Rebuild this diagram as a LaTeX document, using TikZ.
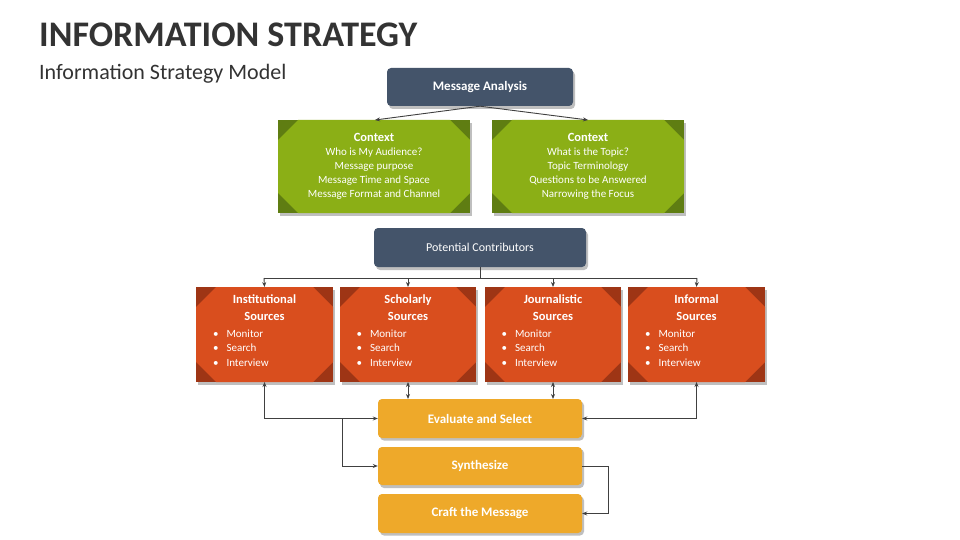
\documentclass[tikz,border=0pt]{standalone}
\usepackage{fontspec}
\setmainfont{Carlito}
\usetikzlibrary{arrows.meta,calc}
\definecolor{navy}{HTML}{44546A}
\definecolor{grn}{HTML}{8BAF16}
\definecolor{dgrn}{HTML}{5F7D12}
\definecolor{org}{HTML}{D94E1E}
\definecolor{dorg}{HTML}{9E3515}
\definecolor{yel}{HTML}{EEA92A}
\definecolor{ln}{HTML}{404040}
\tikzset{
  conn/.style={draw=ln,line width=0.9pt,-{Stealth[length=5pt,width=4pt]}},
  dconn/.style={draw=ln,line width=0.9pt,{Stealth[length=5pt,width=4pt]}-{Stealth[length=5pt,width=4pt]}},
  rbox/.style={rounded corners=4pt,text=white,font=\fontsize{13}{15}\selectfont\bfseries,inner sep=0pt},
  shade/.style={fill=black!25,rounded corners=4pt},
}
\newcommand{\octbox}[7]{% name,x1,y1,x2,y2,light,dark
  \fill[black!25] (#2+2,#3+3) rectangle (#4+2,#5+3);
  \fill[#7] (#2,#3) rectangle (#4,#5);
  \fill[#6] (#2+20,#3) -- (#4-20,#3) -- (#4,#3+20) -- (#4,#5-20) -- (#4-20,#5) -- (#2+20,#5) -- (#2,#5-20) -- (#2,#3+20) -- cycle;
  \coordinate (#1) at ({(#2+#4)/2},{(#3+#5)/2});
  \coordinate (#1-n) at ({(#2+#4)/2},#3);
  \coordinate (#1-s) at ({(#2+#4)/2},#5);
}
\begin{document}
\begin{tikzpicture}[x=1pt,y=-1pt]
\useasboundingbox (0,0) rectangle (960,540);
\fill[white] (0,0) rectangle (960,540);
\node[anchor=west,font=\fontsize{36}{40}\selectfont\bfseries,text=black!80,inner sep=0] (title) at (39,35) {INFORMATION STRATEGY};
\node[anchor=west,font=\fontsize{22}{26}\selectfont,text=black!80,inner sep=0] (sub) at (39,74) {Information Strategy Model};
% Message analysis
\fill[shade] (389,71) rectangle (575,109);
\node[rbox,fill=navy,minimum width=186pt,minimum height=38pt] (ma) at (480,87) {Message Analysis};
% context boxes
\octbox{c1}{278}{120}{470}{213}{grn}{dgrn}
\octbox{c2}{492}{120}{684}{213}{grn}{dgrn}
\node[text=white,align=center,font=\fontsize{11}{14}\selectfont] (t1) at (c1) {{\fontsize{12.5}{14}\selectfont\bfseries Context}\\Who is My Audience?\\Message purpose\\Message Time and Space\\Message Format and Channel};
\node[text=white,align=center,font=\fontsize{11}{14}\selectfont] (t2) at (c2) {{\fontsize{12.5}{14}\selectfont\bfseries Context}\\What is the Topic?\\Topic Terminology\\Questions to be Answered\\Narrowing the Focus};
\draw[conn] (ma.south) -- (375,120);
\draw[conn] (ma.south) -- (588,120);
% potential contributors
\fill[shade] (376,231) rectangle (588,270);
\node[rbox,fill=navy,minimum width=212pt,minimum height=39pt,font=\fontsize{12}{14}\selectfont] (pc) at (480,247.5) {Potential Contributors};
% source boxes
\octbox{s1}{196}{287}{333}{382}{org}{dorg}
\octbox{s2}{340}{287}{476}{382}{org}{dorg}
\octbox{s3}{485}{287}{621}{382}{org}{dorg}
\octbox{s4}{628}{287}{765}{382}{org}{dorg}
\foreach \n/\a/\b in {s1/Institutional/Sources,s2/Scholarly/Sources,s3/Journalistic/Sources,s4/Informal/Sources}{
  \node[text=white,align=center,font=\fontsize{12.5}{17}\selectfont\bfseries,anchor=north] (\n-h) at ($(\n-n)+(0,4)$) {\a\\\b};
  \node[text=white,align=left,font=\fontsize{11}{14.5}\selectfont,anchor=north west] (\n-l) at ($(\n-n)+(-55,39)$) {•\hspace{8pt}Monitor\\•\hspace{8pt}Search\\•\hspace{8pt}Interview};
}
\coordinate (hb) at (480,278);
\draw[draw=ln,line width=0.9pt] (pc.south) -- (hb);
\draw[draw=ln,line width=0.9pt] (264,278) -- (697,278);
\foreach \n/\x in {s1/264,s2/408,s3/553,s4/697}{\draw[conn] (\x,278) -- (\n-n);}
% bottom boxes
\foreach \y in {418.5,466,513.5}{\fill[shade] (380,\y-17) rectangle (584,\y+22);}
\node[rbox,fill=yel,minimum width=204pt,minimum height=39pt] (ev) at (480,418.5) {Evaluate and Select};
\node[rbox,fill=yel,minimum width=204pt,minimum height=38pt] (sy) at (480,466) {Synthesize};
\node[rbox,fill=yel,minimum width=204pt,minimum height=39pt] (cr) at (480,513.5) {Craft the Message};
\draw[dconn] (s1-s) |- (ev.west);
\draw[dconn] (s4-s) |- (ev.east);
\draw[dconn] (408,382) -- (408,399);
\draw[dconn] (553,382) -- (553,399);
\coordinate (br) at (342,418.5);
\draw[conn] (br) |- (sy.west);
\draw[conn] (sy.east) -- (608,466) |- (cr.east);
\end{tikzpicture}
\end{document}
